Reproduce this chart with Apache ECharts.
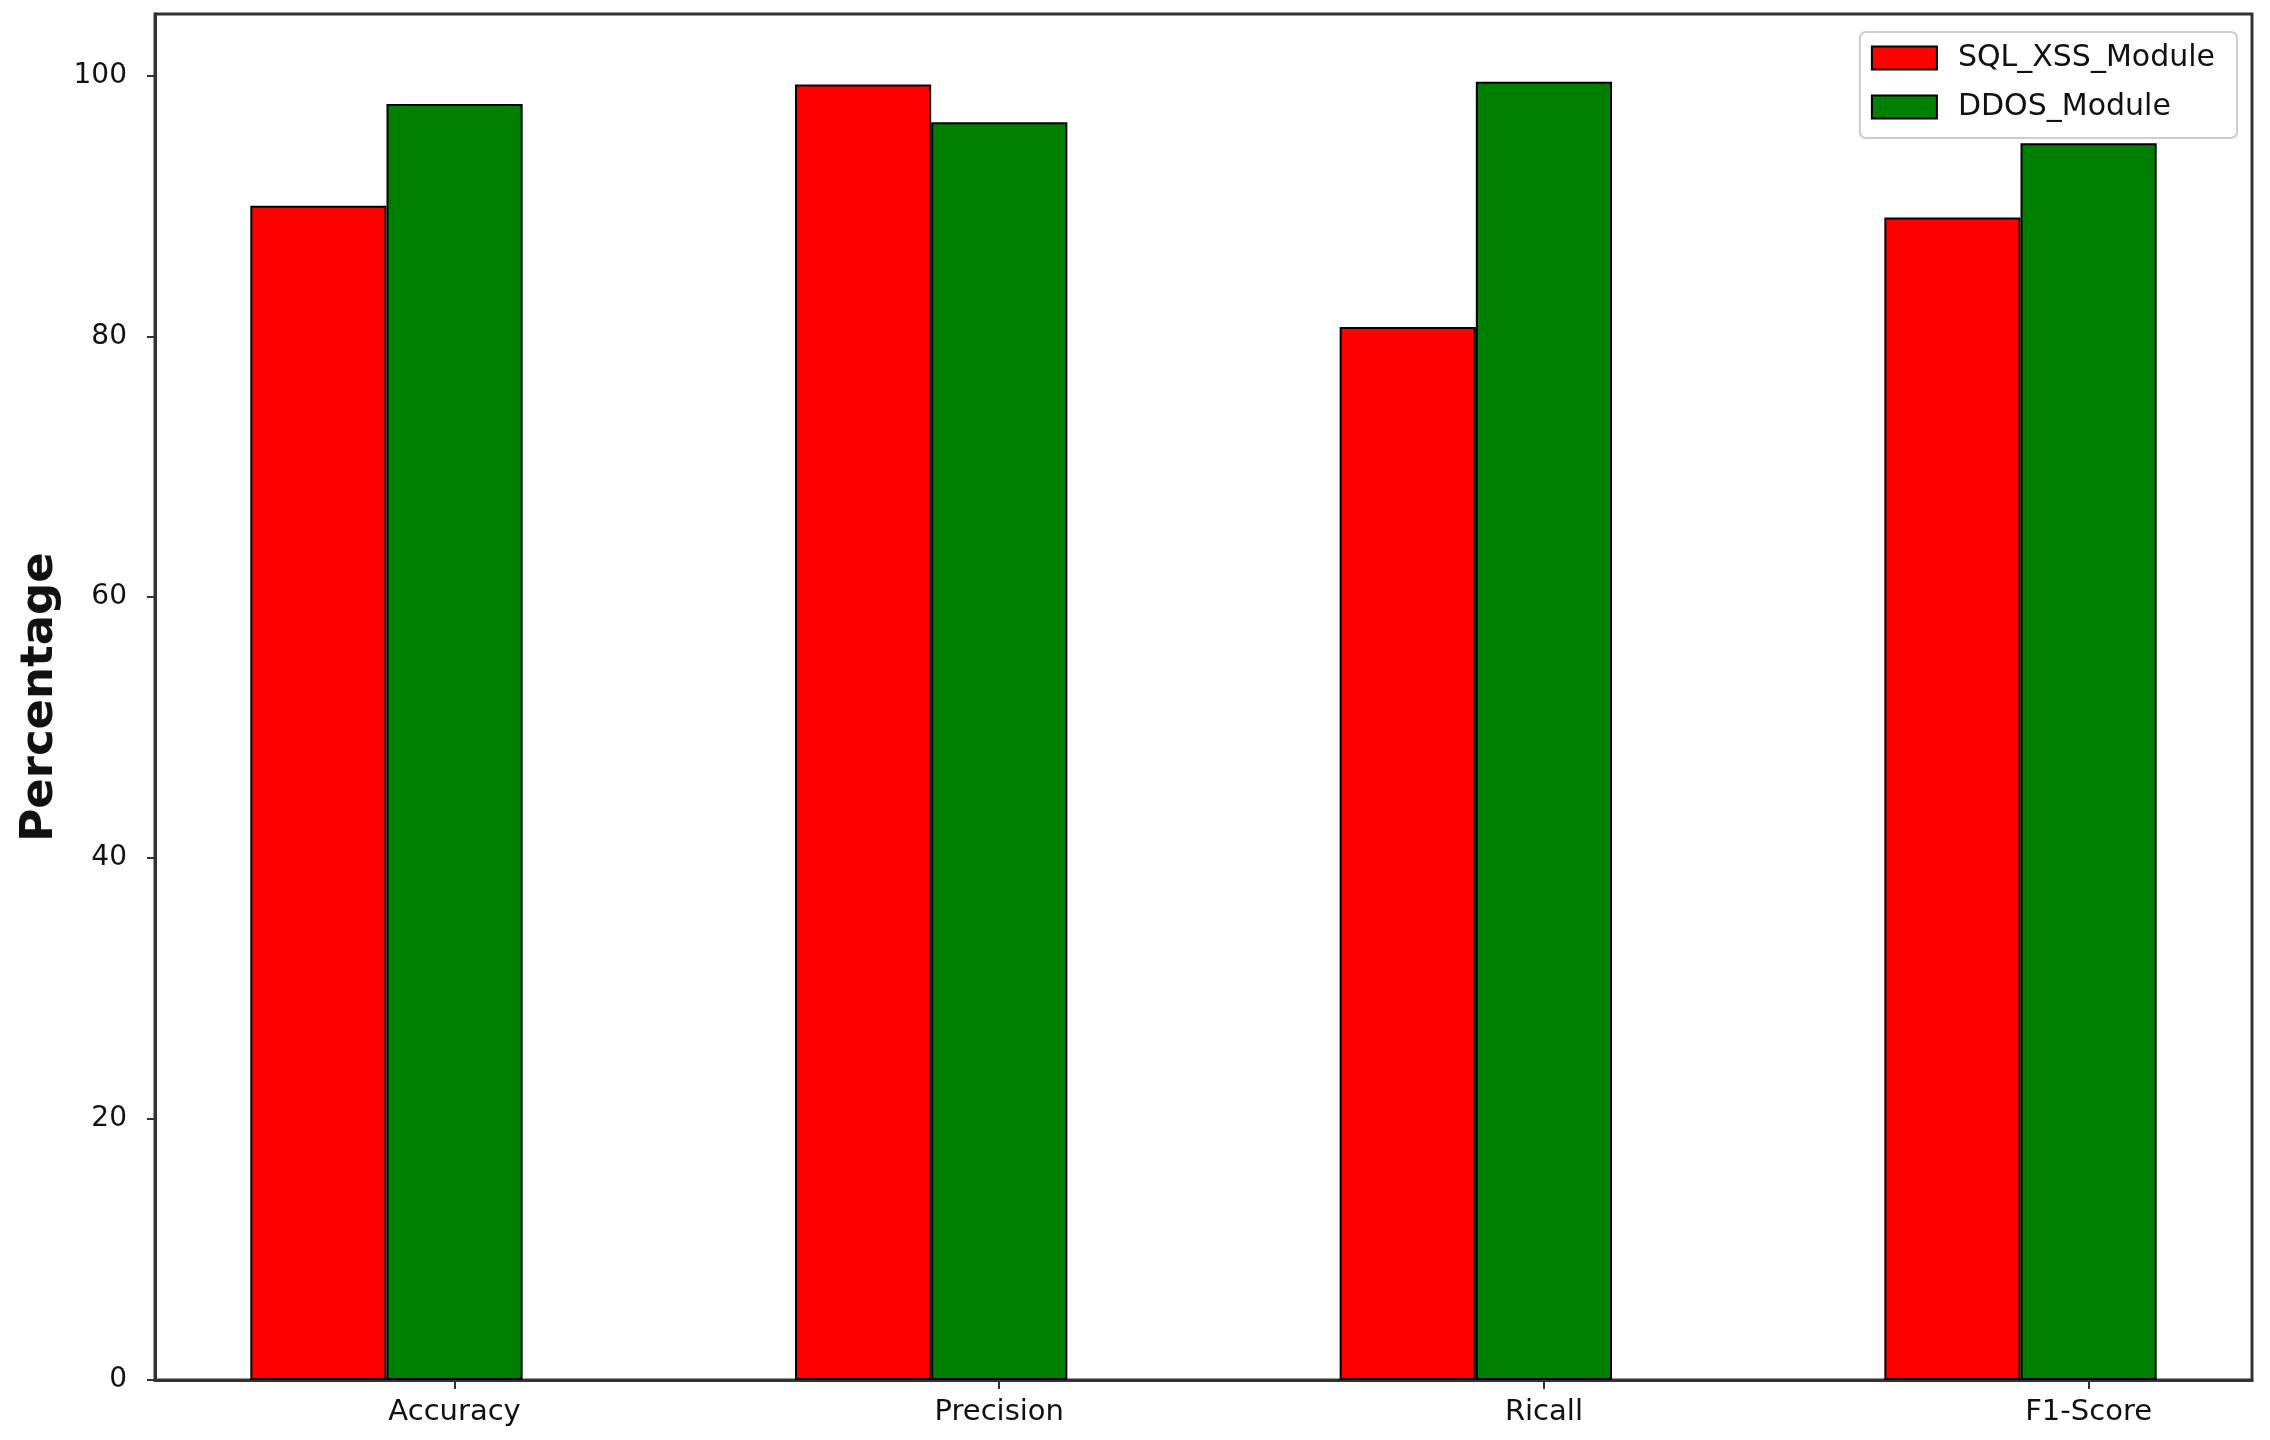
<!DOCTYPE html>
<html>
<head>
<meta charset="utf-8">
<script src="https://cdn.jsdelivr.net/npm/echarts@6/dist/echarts.min.js"></script>
<style>
  html, body { margin: 0; padding: 0; background: #fff; }
  #chart { width: 2270px; height: 1440px; }
</style>
</head>
<body>
<div id="chart"></div>
<script>
// values
const categories = ['Accuracy', 'Precision', 'Ricall', 'F1-Score'];
const sqlXss = [90.0, 99.3, 80.7, 89.1];
const ddos = [97.8, 96.4, 99.5, 94.8];
const yTicks = [0, 20, 40, 60, 80, 100];
const seriesNames = ['SQL_XSS_Module', 'DDOS_Module'];

const gridLeft = 155, gridRight = 18, gridTop = 14, gridBottom = 60;
const xMin = -0.55, xMax = 3.3;
const barUnits = 0.25;
const barPx = (2270 - gridLeft - gridRight) * barUnits / (xMax - xMin);

const textColor = '#111';
const font = 'DejaVu Sans';

const chart = echarts.init(document.getElementById('chart'));

chart.setOption({
  animation: false,
  backgroundColor: '#fff',
  grid: {
    left: gridLeft,
    right: gridRight,
    top: gridTop,
    bottom: gridBottom,
    show: true,
    borderColor: '#333',
    borderWidth: 3
  },
  legend: {
    orient: 'vertical',
    right: 33,
    top: 32,
    padding: [11, 22, 16, 11],
    itemGap: 19,
    itemWidth: 65,
    itemHeight: 23,
    icon: 'rect',
    borderColor: '#ccc',
    borderWidth: 2,
    borderRadius: 6,
    textStyle: { fontFamily: font, fontSize: 30, color: textColor, lineHeight: 30, padding: [0, 0, 0, 16] },
    data: seriesNames
  },
  xAxis: {
    type: 'value',
    min: xMin,
    max: xMax,
    axisLine: { show: true, onZero: false, lineStyle: { color: '#333', width: 3 } },
    axisTick: { show: true, length: 9, customValues: [0, 1, 2, 3], lineStyle: { color: '#333', width: 2 } },
    axisLabel: {
      customValues: [0, 1, 2, 3],
      formatter: v => categories[Math.round(v)] || '',
      fontFamily: font,
      fontSize: 29,
      color: textColor,
      margin: 18
    },
    splitLine: { show: false }
  },
  yAxis: {
    type: 'value',
    min: 0,
    max: 104.7,
    name: 'Percentage',
    nameLocation: 'middle',
    nameGap: 92,
    nameTextStyle: { fontFamily: font, fontSize: 45, fontWeight: 'bold', color: textColor },
    axisLine: { show: true, onZero: false, lineStyle: { color: '#333', width: 3 } },
    axisTick: { show: true, length: 8, customValues: yTicks, lineStyle: { color: '#333', width: 2 } },
    axisLabel: {
      customValues: yTicks,
      fontFamily: font,
      fontSize: 28,
      color: textColor,
      margin: 28
    },
    splitLine: { show: false }
  },
  series: [
    {
      name: seriesNames[0],
      type: 'bar',
      barWidth: barPx,
      barGap: '-100%',
      itemStyle: { color: '#ff0000', borderColor: '#000', borderWidth: 2 },
      data: sqlXss.map((v, i) => [i - barUnits, v])
    },
    {
      name: seriesNames[1],
      type: 'bar',
      barWidth: barPx,
      barGap: '-100%',
      itemStyle: { color: '#008000', borderColor: '#000', borderWidth: 2 },
      data: ddos.map((v, i) => [i, v])
    }
  ]
});

window.addEventListener('resize', () => {
  chart.resize();
});
</script>
</body>
</html>
